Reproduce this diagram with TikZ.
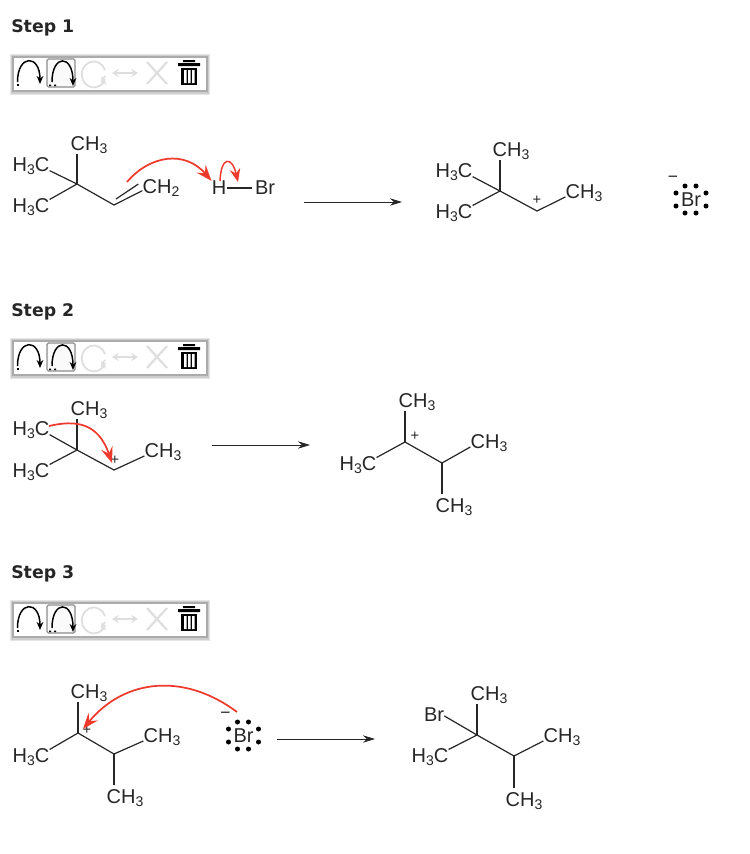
\documentclass[tikz,border=0pt]{standalone}
\usepackage{fontspec}
\setmainfont{Liberation Sans}
\newfontfamily\headfont{DejaVu Sans}
\usetikzlibrary{arrows.meta}
\definecolor{inkgray}{HTML}{262626}
\definecolor{curlyred}{HTML}{EE3A2C}
\definecolor{barline}{HTML}{ABABAB}
\definecolor{officon}{HTML}{DEDEDE}
\newcommand{\subn}[1]{\raisebox{-2.4pt}{\fontsize{10.5}{10.5}\selectfont #1}}
\newcommand{\chthree}{CH\subn{3}}
\newcommand{\hthreec}{H\subn{3}C}
\tikzset{
    atom/.style={inner sep=0pt,text=inkgray,font=\fontsize{15}{17}\selectfont},
    chg/.style={inner sep=0pt,text=inkgray,font=\fontsize{11}{11}\selectfont},
    stephead/.style={anchor=base west,inner sep=0pt,text=inkgray,font=\headfont\bfseries\fontsize{13}{16}\selectfont},
    bond/.style={draw=inkgray,line width=0.9pt},
    rxn/.style={draw=inkgray,line width=0.6pt,-{Stealth[length=9pt,width=5.5pt]}},
    curly/.style={draw=curlyred,line width=1.3pt,-{Stealth[length=12pt,width=9pt,inset=4.5pt]}},
    offline/.style={draw=officon,line width=1.3pt},
}
% toolbar with the six buttons, #1 is its vertical offset
\newcommand{\toolbar}[1]{
    \begin{scope}[shift={(0,#1)}]
        \fill[black,opacity=0.10] (10,54) rectangle (210,95);
        \fill[black,opacity=0.10] (11,55) rectangle (209,94);
        \draw[barline,fill=white,line width=1.6pt] (13,57) rectangle (207,91);
        \fill[black!2,draw=black!45,line width=0.8pt,rounded corners=1pt] (47,59) rectangle (75,87);
        \draw[black,line width=1.1pt,-{Stealth[length=6pt,width=5pt]}] (17.5,82) .. controls (17.5,54) and (40,54) .. (40,84);
        \draw[black,line width=1.1pt,-{Stealth[length=6pt,width=5pt]}] (52,82) .. controls (52,54) and (73,54) .. (73,86);
        \fill[black] (17,83.5) rectangle (19,85.5);
        \fill[black] (49,84.5) rectangle (51,86) (54,84.5) rectangle (56,86);
        \draw[offline,-{Stealth[length=4pt,width=4pt]}] (105,70) arc (-20:-340:12 and 13);
        \draw[offline,-{Stealth[length=4pt,width=4pt]}] (105,76) -- (101,82);
        \draw[offline,{Stealth[length=5pt,width=6pt]}-{Stealth[length=5pt,width=6pt]}] (112,73) -- (138,73);
        \draw[offline,line width=1.6pt] (147,62) -- (167,84) (167,62) -- (147,84);
        \fill[black] (183,60) rectangle (195,62) (178,63) rectangle (200,66);
        \fill[black] (181,68) rectangle (197,85);
        \fill[white] (184,70) rectangle (186.5,83) (188,70) rectangle (190.5,83) (192,70) rectangle (194.5,83);
    \end{scope}
}
% bromide with lone pairs, #1 center, #2 its name
\newcommand{\brion}[2]{
    \node[atom] (#2) at (#1) {Br};
    \begin{scope}[shift={(#1)}]
        \node[chg] (#2m) at (-18,-21) {\fontsize{13}{13}\selectfont −};
        \foreach \dx/\dy in {-6/-14,5/-14,-6/13,5/13,-15/-7,-15/6,15/-7,15/6}
            \fill[black] (\dx,\dy) circle (2.5);
    \end{scope}
}
\begin{document}
\begin{tikzpicture}[x=0.75pt,y=-0.75pt]
    \useasboundingbox (0,0) rectangle (750,854);

    \node[stephead] (s1) at (11,32) {Step 1};
    \node[stephead] (s2) at (11,316) {Step 2};
    \node[stephead] (s3) at (11,578) {Step 3};
    \toolbar{0}
    \toolbar{284}
    \toolbar{546}

    % step 1, alkene and HBr
    \coordinate (a1) at (77,184);
    \coordinate (a2) at (114,205);
    \node[atom] (a3) at (89,145) {\chthree};
    \node[atom] (a4) at (31,166) {\hthreec};
    \node[atom] (a5) at (31,207) {\hthreec};
    \node[atom] (a6) at (161,188) {CH\subn{2}};
    \node[atom] (a7) at (219,188) {H};
    \node[atom] (a8) at (265,188) {Br};
    \draw[bond] (a1) -- (a1 |- a3.south);
    \draw[bond] (a1) -- (a4.-14);
    \draw[bond] (a1) -- (a5.22);
    \draw[bond] (a1) -- (a2) -- (a6.188);
    \draw[bond] ([shift={(2,-6)}]a2) -- ([shift={(-4,-4)}]a6.west);
    \draw[bond] (a7) ++(8,0) -- ([xshift=-2]a8.west);
    \coordinate (a9) at (127,182);
    \coordinate (a10) at (220,181);
    \coordinate (a11) at (238,182);
    \draw[curly] (a9) .. controls (150,155) and (185,150) .. (a7.north west);
    \draw[curly,line width=1.1pt,-{Stealth[length=10pt,width=8pt,inset=3.5pt]}] (a10) .. controls (221,156) and (232,156) .. (a11);

    \coordinate (r1) at (304,202);
    \coordinate (r2) at (402,202);
    \draw[rxn] (r1) -- (r2);

    % step 1, cation and bromide
    \coordinate (b1) at (500,191);
    \coordinate (b2) at (537,211);
    \node[atom] (b3) at (511,151) {\chthree};
    \node[atom] (b4) at (454,172) {\hthreec};
    \node[atom] (b5) at (454,213) {\hthreec};
    \node[atom] (b6) at (584,193) {\chthree};
    \node[chg] (b7) at (537,200) {+};
    \draw[bond] (b1) -- (b1 |- b3.south);
    \draw[bond] (b1) -- (b4.-14);
    \draw[bond] (b1) -- (b5.22);
    \draw[bond] (b1) -- (b2) -- (b6.192);
    \brion{691,200}{b8}

    % step 2, shift of the methyl group
    \coordinate (c1) at (77,450);
    \coordinate (c2) at (114,470);
    \node[atom] (c3) at (89,410) {\chthree};
    \node[atom] (c4) at (31,430) {\hthreec};
    \node[atom] (c5) at (31,472) {\hthreec};
    \node[atom] (c6) at (163,452) {\chthree};
    \node[chg] (c7) at (115,460) {+};
    \draw[bond] (c1) -- (c1 |- c3.south);
    \draw[bond] (c1) -- (c4.-14);
    \draw[bond] (c1) -- (c5.22);
    \draw[bond] (c1) -- (c2) -- (c6.192);
    \coordinate (c8) at (49,426);
    \coordinate (c9) at (112,463);
    \draw[curly] (c8) .. controls (75,420) and (98,422) .. (c9);

    \coordinate (r3) at (212,445);
    \coordinate (r4) at (310,445);
    \draw[rxn] (r3) -- (r4);

    % step 2, rearranged cation
    \coordinate (d1) at (405,442);
    \coordinate (d2) at (442,463);
    \node[atom] (d3) at (417,402) {\chthree};
    \node[atom] (d4) at (358,465) {\hthreec};
    \node[atom] (d5) at (489,443) {\chthree};
    \node[atom] (d6) at (454,507) {\chthree};
    \node[chg] (d7) at (415,436) {+};
    \draw[bond] (d1) -- (d1 |- d3.south);
    \draw[bond] (d1) -- (d4.22);
    \draw[bond] (d1) -- (d2) -- (d5.192);
    \draw[bond] (d2) -- ([yshift=3pt]d2 |- d6.north);

    % step 3, bromide attack
    \coordinate (e1) at (78,733);
    \coordinate (e2) at (114,754);
    \node[atom] (e3) at (89,693) {\chthree};
    \node[atom] (e4) at (31,757) {\hthreec};
    \node[atom] (e5) at (162,737) {\chthree};
    \node[atom] (e6) at (125,798) {\chthree};
    \node[chg] (e7) at (87,730) {+};
    \draw[bond] (e1) -- (e1 |- e3.south);
    \draw[bond] (e1) -- (e4.22);
    \draw[bond] (e1) -- (e2) -- (e5.192);
    \draw[bond] (e2) -- ([yshift=3pt]e2 |- e6.north);
    \brion{243.5,736}{e8}
    \coordinate (e9) at (237,712);
    \coordinate (e10) at (83,729);
    \draw[curly] (e9) .. controls (185,673) and (125,678) .. (e10);

    \coordinate (r5) at (277,739);
    \coordinate (r6) at (375,739);
    \draw[rxn] (r5) -- (r6);

    % step 3, bromide product
    \coordinate (f1) at (477,735);
    \coordinate (f2) at (514,756);
    \node[atom] (f3) at (489,695) {\chthree};
    \node[atom] (f4) at (434,715) {Br};
    \node[atom] (f5) at (430,757) {\hthreec};
    \node[atom] (f6) at (562,737) {\chthree};
    \node[atom] (f7) at (524,801) {\chthree};
    \draw[bond] (f1) -- (f1 |- f3.south);
    \draw[bond] (f1) -- (f4.-5);
    \draw[bond] (f1) -- (f5.22);
    \draw[bond] (f1) -- (f2) -- (f6.192);
    \draw[bond] (f2) -- ([yshift=3pt]f2 |- f7.north);
\end{tikzpicture}
\end{document}
